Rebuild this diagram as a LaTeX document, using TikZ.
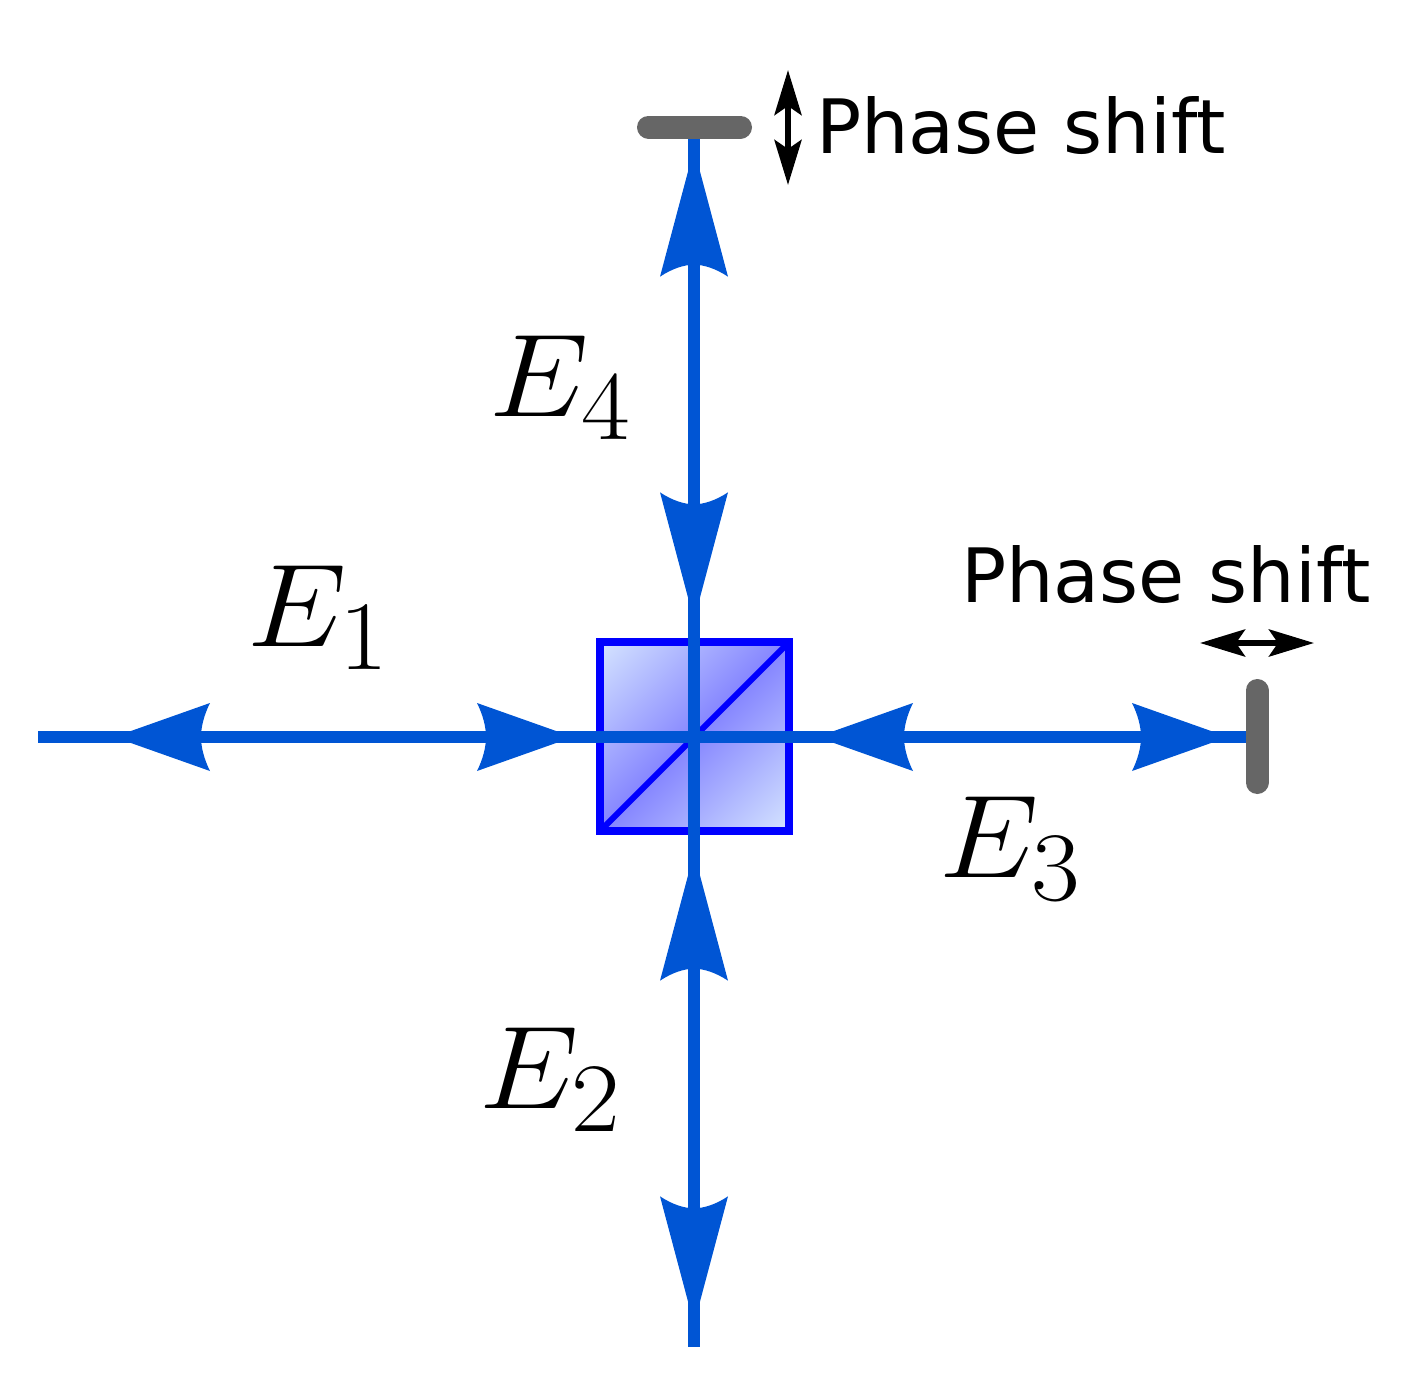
\documentclass[tikz,border=0pt]{standalone}
\usepackage{fontspec}
\setsansfont{DejaVu Sans}
\usepackage{amsmath}
\usetikzlibrary{arrows.meta}
\definecolor{beamblue}{HTML}{0055D4}
\definecolor{mirrorgray}{HTML}{666666}
\definecolor{cubelight}{HTML}{D4E3FF}
\definecolor{cubemid}{HTML}{8585FF}
\pgfdeclareverticalshading{cubeshade}{100bp}{color(0bp)=(cubelight); color(15bp)=(cubelight); color(50bp)=(cubemid); color(85bp)=(cubelight); color(100bp)=(cubelight)}

\begin{document}
\begin{tikzpicture}[
		x=0.5pt,y=-0.5pt,
		beam/.style={draw=beamblue,line width=6pt},
		mirrorbar/.style={draw=mirrorgray,line width=11.5pt,line cap=round},
		shiftarrow/.style={draw=black,line width=3pt,{Stealth[length=22.5pt,width=13.5pt,inset=4.5pt]}-{Stealth[length=22.5pt,width=13.5pt,inset=4.5pt]}},
		fieldlabel/.style={font=\Huge,xscale=2.55,yscale=2.37,transform shape},
		shiftlabel/.style={font=\sffamily\fontsize{37.5}{37.5}\selectfont,anchor=base},
		beamtip/.pic={
			\fill[beamblue] (0,0) -- (-96,-34) .. controls (-90,-22) and (-87,-10) .. (-87,0)
			.. controls (-87,10) and (-90,22) .. (-96,34) -- cycle;
		}
		]
		\useasboundingbox (0,0) rectangle (1414,1392);
		% beam splitter
		\node (cube) [draw=blue,line width=4pt,minimum size=94.5pt,inner sep=0pt,
			shading=cubeshade,shading angle=45]
			at (694.5,736.5) {};
		\draw[draw=blue,line width=3pt,shorten <=2pt,shorten >=2pt] (cube.south west) -- (cube.north east);
		% beams
		\coordinate (beamwest) at (38,737);
		\coordinate (beameast) at (1257,737);
		\coordinate (beamnorth) at (694,127);
		\coordinate (beamsouth) at (694,1347);
		\draw[beam] (beamwest) -- (beameast);
		\draw[beam] (beamnorth) -- (beamsouth);
		% arrow heads on the beams
		\foreach \tipx/\tipangle in {114/180,573/0,817/180,1228/0}
			\pic[rotate=\tipangle] at (\tipx,737) {beamtip};
		\foreach \tipy/\tipangle in {149/90,620/-90,853/90,1324/-90}
			\pic[rotate=\tipangle,xscale=1.33] at (694,\tipy) {beamtip};
		% mirrors
		\draw[mirrorbar] (648.5,127) -- (740.5,127);
		\draw[mirrorbar] (1257,690.5) -- (1257,782.5);
		% mirror motion
		\coordinate (shifttop) at (788,70);
		\coordinate (shiftbottom) at (788,185);
		\coordinate (shiftleft) at (1200,643);
		\coordinate (shiftright) at (1314,643);
		\draw[shiftarrow] (shifttop) -- (shiftbottom);
		\draw[shiftarrow] (shiftleft) -- (shiftright);
		% labels
		\node (shifta) [shiftlabel] at (1021,153) {Phase shift};
		\node (shiftb) [shiftlabel] at (1166,602) {Phase shift};
		\node (eone) [fieldlabel] at (319,618) {$E_1$};
		\node (etwo) [fieldlabel] at (551,1080) {$E_2$};
		\node (ethree) [fieldlabel] at (1011,849) {$E_3$};
		\node (efour) [fieldlabel] at (561.5,388) {$E_4$};
		\end{tikzpicture}
\end{document}
